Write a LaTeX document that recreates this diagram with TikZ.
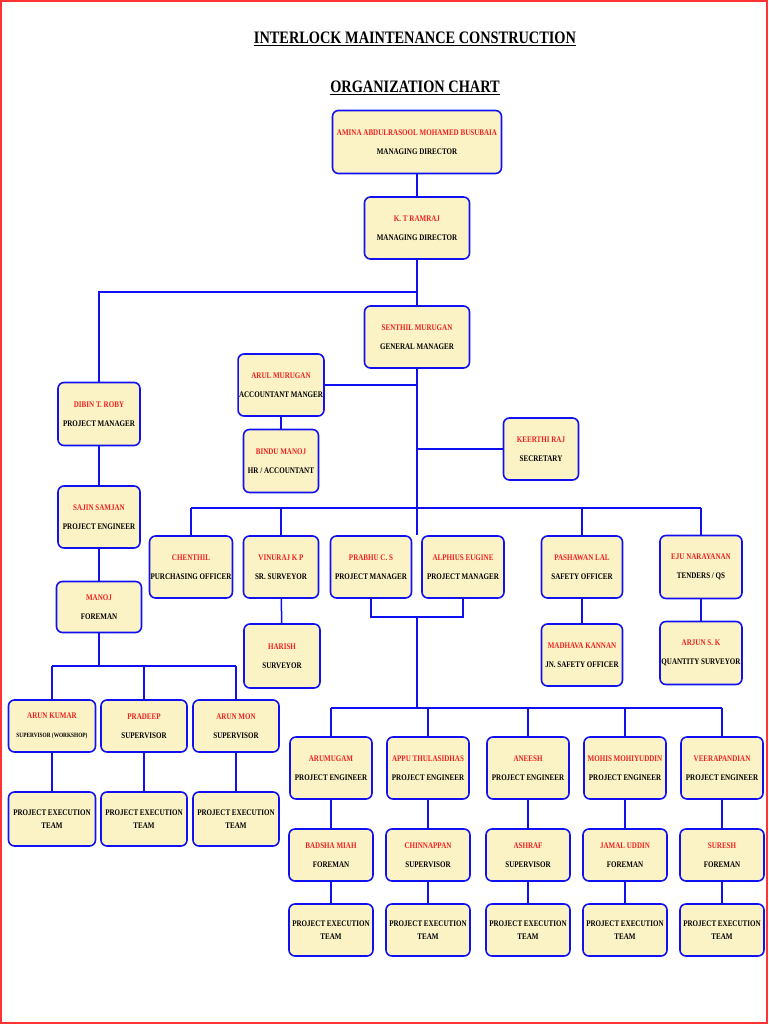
\documentclass[tikz,border=0pt]{standalone}
\usepackage{fontspec}
\setmainfont{Liberation Serif}[FakeStretch=0.82]
\definecolor{boxfill}{HTML}{FBF3C5}
\definecolor{lineblue}{HTML}{1010F0}
\definecolor{namered}{HTML}{F02020}
\begin{document}
\begin{tikzpicture}[x=1pt,y=-1pt,
  box/.style={draw=lineblue,line width=1.6pt,fill=boxfill,rounded corners=6pt,align=center,inner sep=1pt,font=\fontsize{8.6}{19}\selectfont\bfseries},
  link/.style={draw=lineblue,line width=1.5pt}]
\draw[red!80,line width=1.5pt] (1,1) rectangle (767,1023);
\useasboundingbox (0,0) rectangle (768,1024);
\node[font=\fontsize{17.5}{18}\selectfont\bfseries] (t1) at (415,39) {\underline{INTERLOCK MAINTENANCE CONSTRUCTION}};
\node[font=\fontsize{17.5}{18}\selectfont\bfseries] (t2) at (415,88) {\underline{ORGANIZATION CHART}};
\newcommand\pb[6]{\node[box,minimum width=#4pt,minimum height=#5pt] (#1) at (#2,#3) {#6};}
\newcommand\nm[2]{{\color{namered}#1}\\#2}
\newcommand\pet{PROJECT EXECUTION\\[-6pt]TEAM}
\pb{md}{417}{142}{169}{63}{\nm{AMINA ABDULRASOOL MOHAMED BUSUBAIA}{MANAGING DIRECTOR}}
\pb{kt}{417}{228}{105}{62}{\nm{K. T RAMRAJ}{MANAGING DIRECTOR}}
\pb{gm}{417}{337}{105}{62}{\nm{SENTHIL MURUGAN}{GENERAL MANAGER}}
\pb{arul}{281}{385}{85}{62}{\nm{ARUL MURUGAN}{ACCOUNTANT MANGER}}
\pb{bindu}{281}{461}{75}{63}{\nm{BINDU MANOJ}{HR / ACCOUNTANT}}
\pb{keer}{541}{449}{75}{62}{\nm{KEERTHI RAJ}{SECRETARY}}
\pb{dibin}{99}{414}{82}{63}{\nm{DIBIN T. ROBY}{PROJECT MANAGER}}
\pb{sajin}{99}{517}{82}{62}{\nm{SAJIN SAMJAN}{PROJECT ENGINEER}}
\pb{manoj}{99}{607}{85}{51}{\nm{MANOJ}{FOREMAN}}
\pb{ak}{52}{726}{87}{52}{\nm{ARUN KUMAR}{{\fontsize{6.5}{19}\selectfont SUPERVISOR (WORKSHOP)}}}
\pb{pr}{144}{726}{86}{52}{\nm{PRADEEP}{SUPERVISOR}}
\pb{am}{236}{726}{86}{52}{\nm{ARUN MON}{SUPERVISOR}}
\pb{pl1}{52}{819}{87}{54}{\pet}
\pb{pl2}{144}{819}{86}{54}{\pet}
\pb{pl3}{236}{819}{86}{54}{\pet}
\pb{chen}{191}{567}{82}{62}{\nm{CHENTHIL}{PURCHASING OFFICER}}
\pb{vin}{281}{567}{75}{62}{\nm{VINURAJ K P}{SR. SURVEYOR}}
\pb{har}{282}{656}{76}{64}{\nm{HARISH}{SURVEYOR}}
\pb{prab}{371}{567}{81}{62}{\nm{PRABHU C. S}{PROJECT MANAGER}}
\pb{alph}{463}{567}{82}{62}{\nm{ALPHIUS EUGINE}{PROJECT MANAGER}}
\pb{pash}{582}{567}{81}{62}{\nm{PASHAWAN LAL}{SAFETY OFFICER}}
\pb{madh}{582}{655}{81}{62}{\nm{MADHAVA KANNAN}{JN. SAFETY OFFICER}}
\pb{eju}{701}{567}{82}{63}{\nm{EJU NARAYANAN}{TENDERS / QS}}
\pb{arj}{701}{653}{82}{63}{\nm{ARJUN S. K}{QUANTITY SURVEYOR}}
\pb{pe1}{331}{768}{82}{62}{\nm{ARUMUGAM}{PROJECT ENGINEER}}
\pb{pe2}{428}{768}{82}{62}{\nm{APPU THULASIDHAS}{PROJECT ENGINEER}}
\pb{pe3}{528}{768}{82}{62}{\nm{ANEESH}{PROJECT ENGINEER}}
\pb{pe4}{625}{768}{82}{62}{\nm{MOHIS MOHIYUDDIN}{PROJECT ENGINEER}}
\pb{pe5}{722}{768}{82}{62}{\nm{VEERAPANDIAN}{PROJECT ENGINEER}}
\pb{f1}{331}{855}{84}{52}{\nm{BADSHA MIAH}{FOREMAN}}
\pb{f2}{428}{855}{84}{52}{\nm{CHINNAPPAN}{SUPERVISOR}}
\pb{f3}{528}{855}{84}{52}{\nm{ASHRAF}{SUPERVISOR}}
\pb{f4}{625}{855}{84}{52}{\nm{JAMAL UDDIN}{FOREMAN}}
\pb{f5}{722}{855}{84}{52}{\nm{SURESH}{FOREMAN}}
\pb{t1b}{331}{930}{84}{52}{\pet}
\pb{t2b}{428}{930}{84}{52}{\pet}
\pb{t3b}{528}{930}{84}{52}{\pet}
\pb{t4b}{625}{930}{84}{52}{\pet}
\pb{t5b}{722}{930}{84}{52}{\pet}
\coordinate (tb) at (417,292);
\coordinate (mb) at (417,508);
\coordinate (pj) at (417,617);
\coordinate (lb) at (99,666);
\coordinate (bb) at (417,708);
\draw[link] (md) -- (kt);
\draw[link] (kt) -- (gm);
\draw[link] (tb) -| (dibin);
\draw[link] (gm) -- (mb);
\draw[link] (arul.east) -- (arul.east -| gm);
\draw[link] (arul) -- (bindu);
\draw[link] (keer.west) -- (keer.west -| gm);
\draw[link] (mb -| chen) -- (mb -| eju);
\foreach \n in {chen,vin,pash,eju} \draw[link] (mb -| \n) -- (\n);
\draw[link] (mb) -- (mb |- prab.north);
\draw[link] (dibin) -- (sajin);
\draw[link] (sajin) -- (manoj);
\draw[link] (manoj) -- (lb);
\draw[link] (lb -| ak) -- (lb -| am);
\foreach \n in {ak,pr,am} \draw[link] (lb -| \n) -- (\n);
\draw[link] (ak) -- (pl1); \draw[link] (pr) -- (pl2); \draw[link] (am) -- (pl3);
\draw[link] (vin) -- (har);
\draw[link] (pash) -- (madh);
\draw[link] (eju) -- (arj);
\draw[link] (prab.south) -- (pj -| prab) -- (pj -| alph) -- (alph.south);
\draw[link] (pj) -- (bb);
\draw[link] (bb -| pe1) -- (bb -| pe5);
\foreach \i in {1,...,5} {
  \draw[link] (bb -| pe\i) -- (pe\i);
  \draw[link] (pe\i) -- (f\i);
}
\draw[link] (f1) -- (t1b); \draw[link] (f2) -- (t2b); \draw[link] (f3) -- (t3b);
\draw[link] (f4) -- (t4b); \draw[link] (f5) -- (t5b);
\end{tikzpicture}
\end{document}
